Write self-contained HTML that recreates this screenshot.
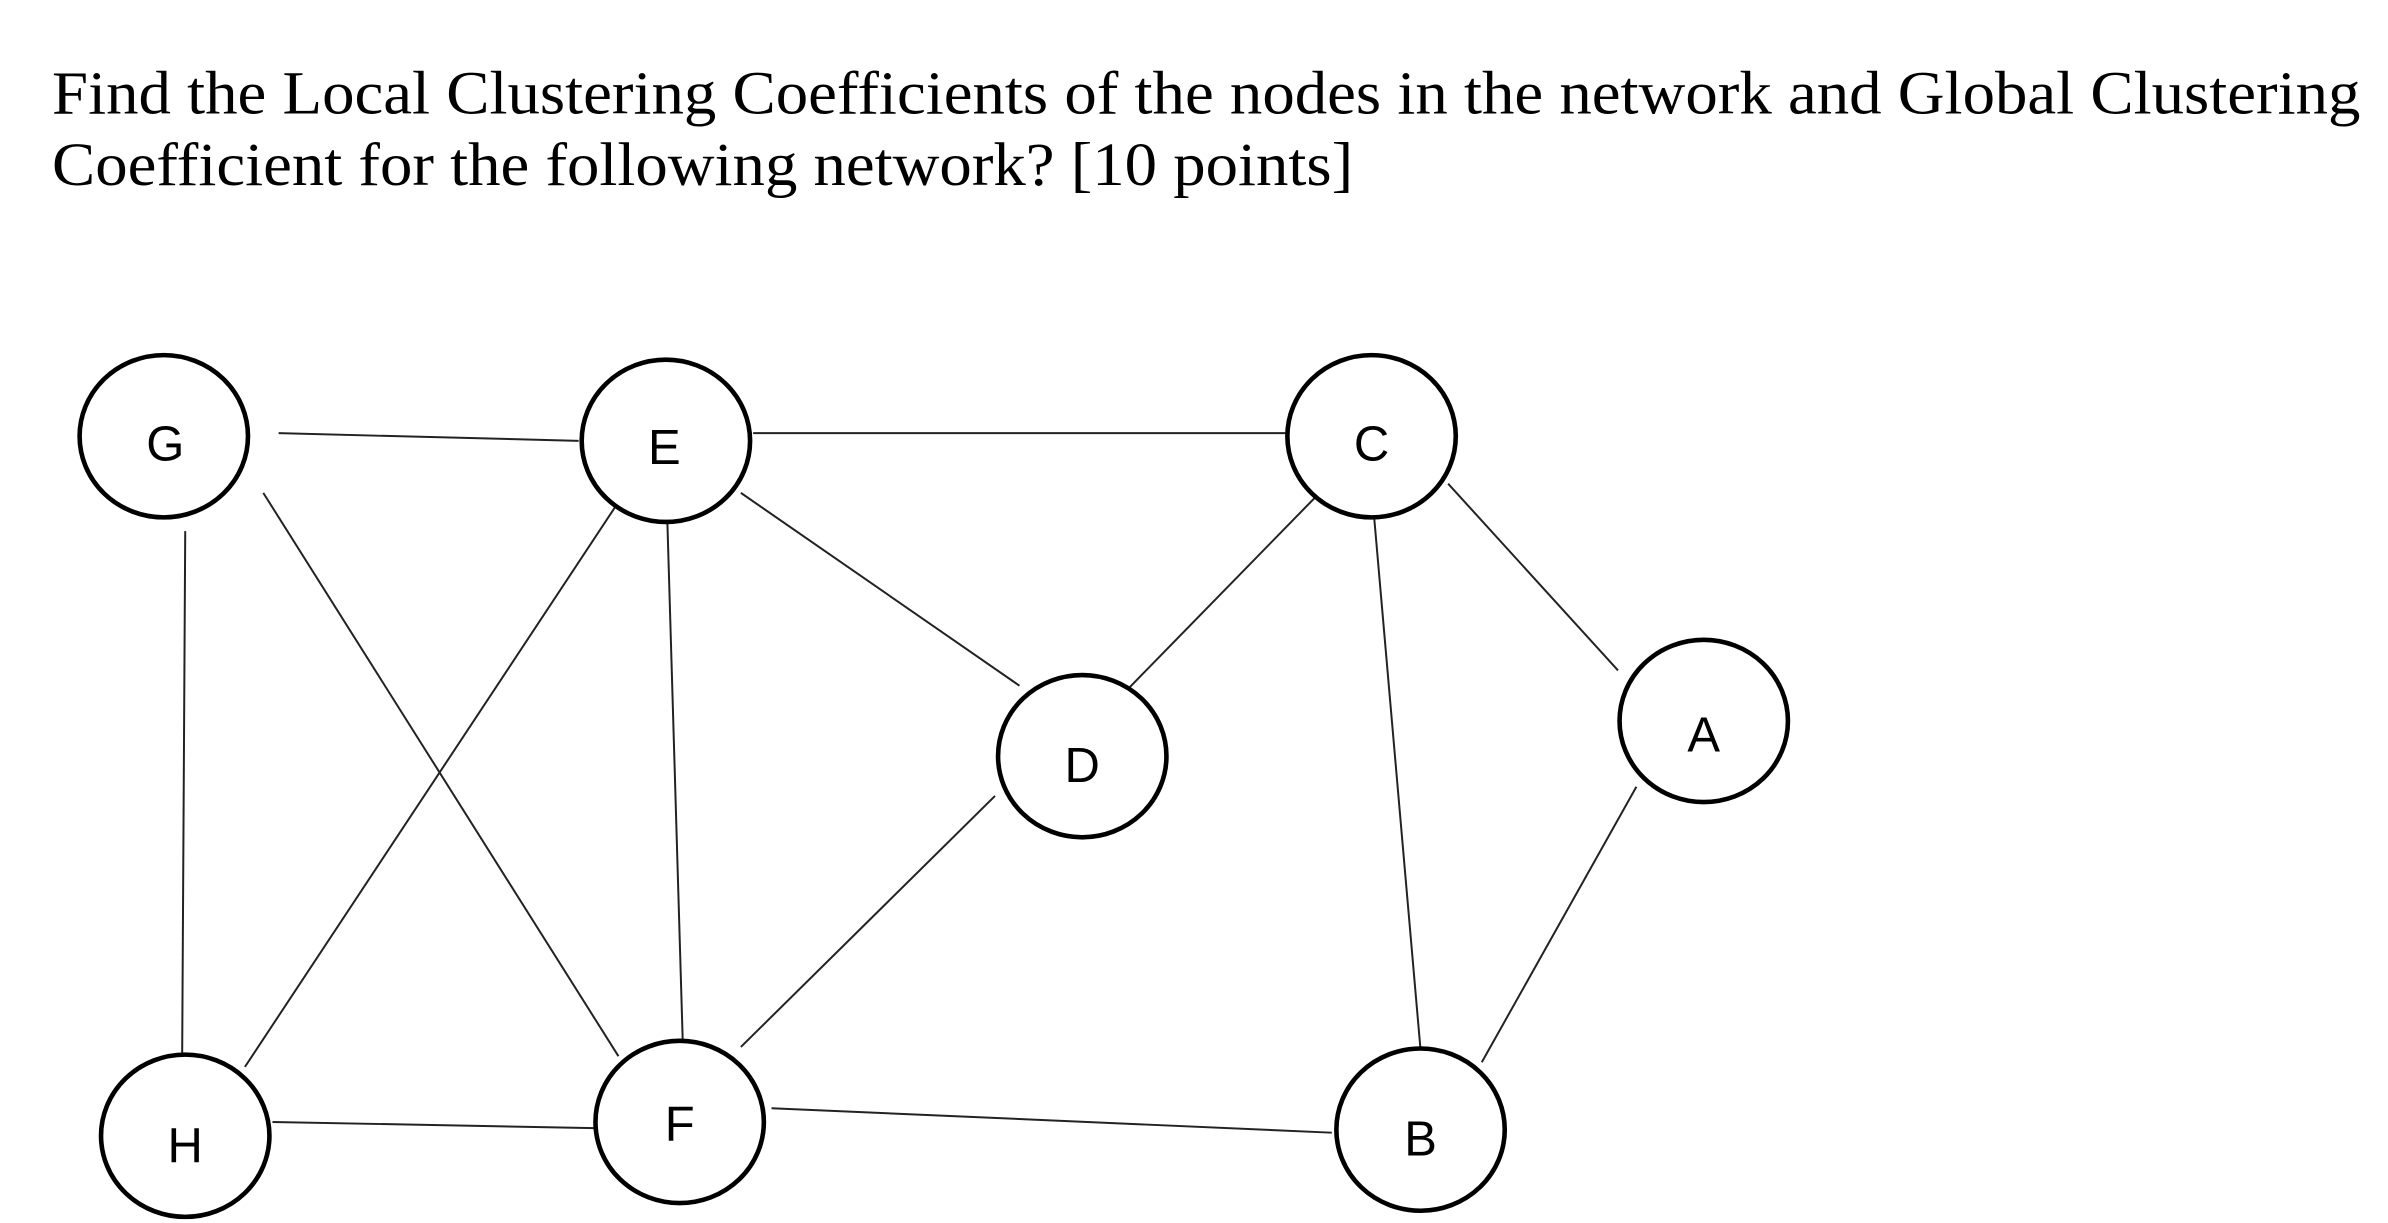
<!DOCTYPE html>
<html><head><meta charset="utf-8"><style>
html,body{margin:0;padding:0;background:#fff;}
svg{display:block;}
</style></head><body>
<svg width="2388" height="1223" viewBox="0 0 1560 799" preserveAspectRatio="none" xmlns="http://www.w3.org/2000/svg">
<rect width="1560" height="799" fill="#fff"/>
<g font-family="'Liberation Serif', serif" font-size="40" fill="#000">
<text x="34" y="74" textLength="1508" lengthAdjust="spacingAndGlyphs">Find the Local Clustering Coefficients of the nodes in the network and Global Clustering</text>
<text x="34" y="121" textLength="850" lengthAdjust="spacingAndGlyphs">Coefficient for the following network? [10 points]</text>
</g>
<g stroke="#222" stroke-width="1.3" fill="none">
<line x1="182" y1="283" x2="378" y2="288"/>
<line x1="492" y1="283" x2="840" y2="283"/>
<line x1="172" y1="322" x2="404" y2="690"/>
<line x1="121" y1="347" x2="119" y2="690"/>
<line x1="404" y1="328" x2="160" y2="697"/>
<line x1="436" y1="342" x2="446" y2="680"/>
<line x1="484" y1="322" x2="666" y2="448"/>
<line x1="864" y1="320" x2="737" y2="450"/>
<line x1="946" y1="316" x2="1057" y2="438"/>
<line x1="897" y1="330" x2="928" y2="686"/>
<line x1="1069" y1="514" x2="968" y2="694"/>
<line x1="650" y1="520" x2="484" y2="684"/>
<line x1="178" y1="733" x2="388" y2="737"/>
<line x1="504" y1="724" x2="870" y2="740"/>
</g>
<g stroke="#000" stroke-width="3" fill="#fff">
<ellipse cx="107" cy="285" rx="55" ry="53"/>
<ellipse cx="435" cy="288" rx="55" ry="53"/>
<ellipse cx="896" cy="285" rx="55" ry="53"/>
<ellipse cx="707" cy="494" rx="55" ry="53"/>
<ellipse cx="1113" cy="471" rx="55" ry="53"/>
<ellipse cx="121" cy="742" rx="55" ry="53"/>
<ellipse cx="444" cy="733" rx="55" ry="53"/>
<ellipse cx="928" cy="738" rx="55" ry="53"/>
</g>
<g font-family="'Liberation Sans', sans-serif" font-size="32" fill="#000" text-anchor="middle">
<text x="108" y="301">G</text>
<text x="434" y="303">E</text>
<text x="896" y="301">C</text>
<text x="707" y="511">D</text>
<text x="1113" y="491">A</text>
<text x="121" y="759">H</text>
<text x="444" y="745">F</text>
<text x="928" y="755">B</text>
</g>
</svg>
</body></html>
